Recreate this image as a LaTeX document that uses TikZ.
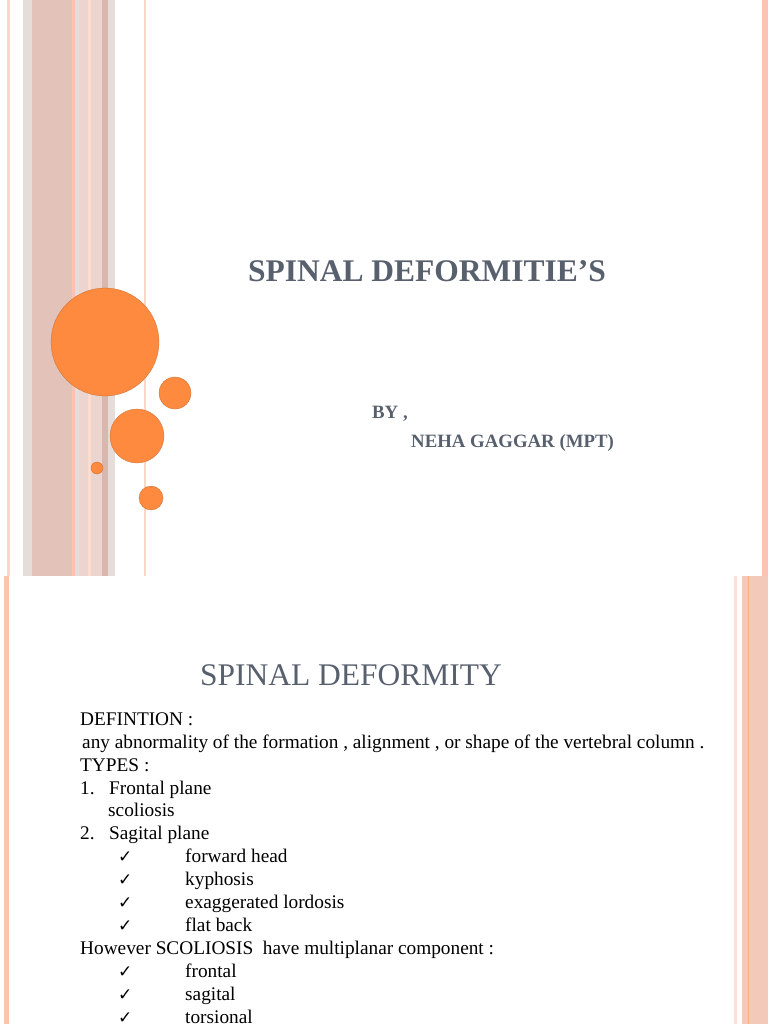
\documentclass[tikz,border=0pt]{standalone}
\usepackage{fontspec}
\setmainfont{Liberation Serif}
\definecolor{salm}{HTML}{FBC4B0}
\definecolor{brp}{HTML}{E3C3B9}
\definecolor{grp}{HTML}{E6DCDA}
\definecolor{dbr}{HTML}{D8B8AE}
\definecolor{org}{HTML}{FD8A3E}
\definecolor{ttl}{HTML}{58606E}
\definecolor{rsal}{HTML}{F0BBA8}
\begin{document}
\begin{tikzpicture}[x=1pt,y=-1pt,
  circ/.style={circle,fill=org,draw=org!80!black,line width=0.3pt,inner sep=0pt},
  body/.style={anchor=base west,inner sep=0pt,font=\fontsize{19.3}{22}\selectfont},
  chk/.style={anchor=base west,inner sep=0pt,font=\fontsize{19}{22}\selectfont}]
\useasboundingbox (0,0) rectangle (768,1024);
% top slide stripes
\fill[salm!70] (7,0) rectangle (10,576);
\fill[grp] (23,0) rectangle (115,576);
\fill[brp] (32,0) rectangle (73,576);
\fill[salm] (72,0) rectangle (75,576);
\fill[brp!70] (79,0) rectangle (102,576);
\fill[salm!60] (88,0) rectangle (91,576);
\fill[dbr] (102,0) rectangle (108,576);
\fill[salm!70] (144,0) rectangle (146,576);
\fill[salm] (762,0) rectangle (768,576);
% bottom slide stripes
\fill[salm] (4,576) rectangle (9,1024);
\fill[salm!50] (734,576) rectangle (737,1024);
\fill[rsal!80] (742,576) rectangle (768,1024);
\fill[org!70] (747.5,576) rectangle (748.5,1024);
% circles
\node[circ,minimum size=108pt] (c1) at (105,342) {};
\node[circ,minimum size=32pt] (c2) at (175,393) {};
\node[circ,minimum size=54pt] (c3) at (137,436) {};
\node[circ,minimum size=12pt] (c4) at (97,468) {};
\node[circ,minimum size=24pt] (c5) at (151,498) {};
% top text
\node[anchor=base,inner sep=0pt,text=ttl,font=\bfseries\fontsize{31.5}{36}\selectfont] (t1) at (427,281) {SPINAL DEFORMITIE’S};
\node[anchor=base west,inner sep=0pt,text=ttl,font=\bfseries\fontsize{18.8}{22}\selectfont] (by) at (372,418) {BY ,};
\node[anchor=base west,inner sep=0pt,text=ttl,font=\bfseries\fontsize{18.8}{22}\selectfont] (nm) at (411,447) {NEHA GAGGAR (MPT)};
% bottom text
\node[anchor=base,inner sep=0pt,text=ttl,font=\fontsize{31.5}{36}\selectfont] (t2) at (351,685) {SPINAL DEFORMITY};
\node[body] at (80,725) {DEFINTION :};
\node[body] at (82,748) {any abnormality of the formation , alignment , or shape of the vertebral column .};
\node[body] at (80,771) {TYPES :};
\node[body] at (80,794) {1.\ \ \ Frontal plane};
\node[body] at (108,816) {scoliosis};
\node[body] at (80,839) {2.\ \ \ Sagital plane};
\foreach \y/\t in {862/forward head,885/kyphosis,908/exaggerated lordosis,931/flat back,977/frontal,1000/sagital,1023/torsional}{
  \node[chk] at (118,\y) {\fontspec{DejaVu Sans}\fontsize{17}{20}\selectfont ✓};
  \node[body] at (185,\y) {\t};
}
\node[body] at (80,954) {However SCOLIOSIS\ \ have multiplanar component :};
\end{tikzpicture}
\end{document}
